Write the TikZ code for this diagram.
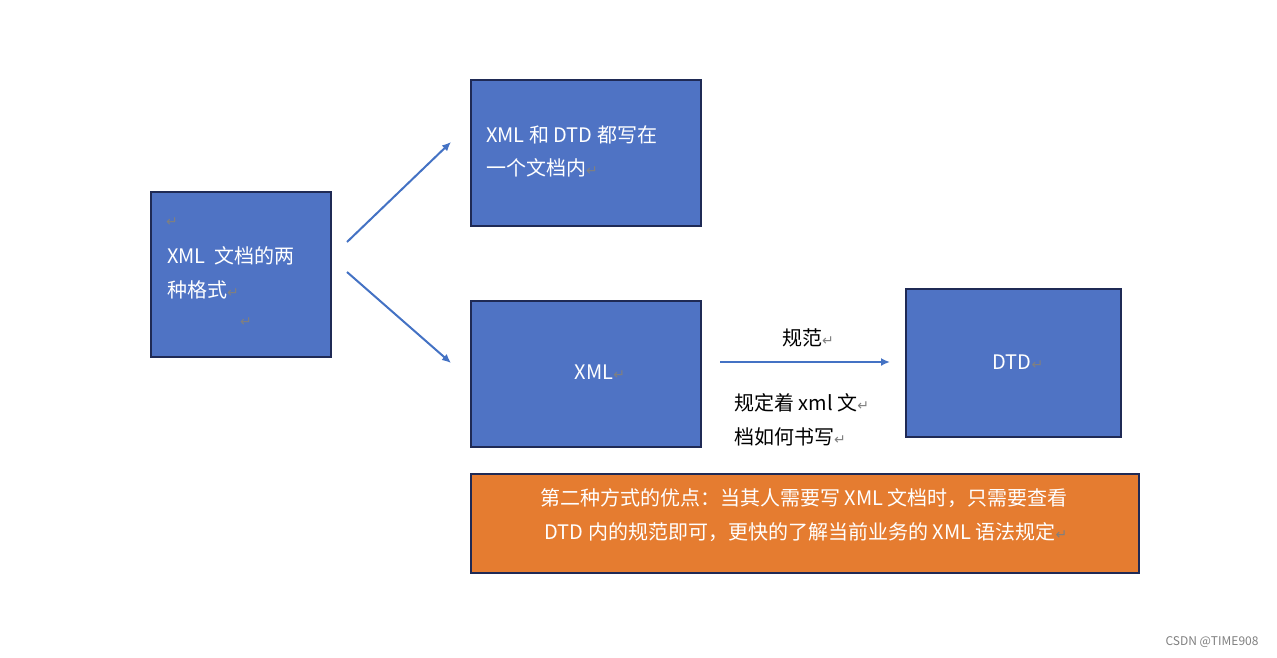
\documentclass[tikz,border=0pt]{standalone}
\usepackage{fontspec}
\usetikzlibrary{arrows.meta}
\setmainfont{Noto Sans CJK SC}
\newfontfamily\dv{DejaVu Sans}
\newcommand{\parmark}{{\dv\color{gray}\fontsize{14}{14}\selectfont ↵}}
\definecolor{boxblue}{HTML}{4F73C4}
\definecolor{arrblue}{HTML}{4472C4}
\definecolor{orng}{HTML}{E57C30}
\definecolor{edge}{HTML}{1F2A55}
\begin{document}
\begin{tikzpicture}[x=1pt,y=-1pt,
  bbox/.style={draw=edge,line width=1.5pt,fill=boxblue},
  arr/.style={draw=arrblue,line width=2pt,-{Latex[length=9pt,width=8pt]}},
  wt/.style={text=white,font=\fontsize{20}{26}\selectfont,inner sep=0pt},
  bt/.style={text=black,font=\fontsize{20}{26}\selectfont,inner sep=0pt}]
\useasboundingbox (0,0) rectangle (1277,657);
\fill[white] (0,0) rectangle (1277,657);
\node[bbox,minimum width=180,minimum height=165,anchor=north west] (l) at (150,191) {};
\node[bbox,minimum width=230,minimum height=146,anchor=north west] (t) at (470,79) {};
\node[bbox,minimum width=230,minimum height=146,anchor=north west] (m) at (470,300) {};
\node[bbox,minimum width=215,minimum height=148,anchor=north west] (d) at (905,288) {};
\node[bbox,fill=orng,minimum width=668,minimum height=99,anchor=north west] (o) at (470,473) {};
\coordinate (a1) at (347,242); \coordinate (b1) at (451,142);
\coordinate (a2) at (347,272); \coordinate (b2) at (451,363);
\coordinate (a3) at (720,362); \coordinate (b3) at (890,362);
\draw[arr] (a1) -- (b1);
\draw[arr] (a2) -- (b2);
\draw[arr] (a3) -- (b3);
\node[wt,anchor=west] (l0) at (166,222) {\parmark};
\node[wt,anchor=west] (l1) at (167,256) {XML\ \ 文档的两};
\node[wt,anchor=west] (l2) at (167,290) {种格式\parmark};
\node[wt,anchor=west] (l3) at (240,322) {\parmark};
\node[wt,anchor=west] (t1) at (486,135) {XML 和 DTD 都写在};
\node[wt,anchor=west] (t2) at (486,168) {一个文档内\parmark};
\node[wt] (mx) at (600,372) {XML\parmark};
\node[wt] (dx) at (1018,362) {DTD\parmark};
\node[bt] (g1) at (808,338) {规范\parmark};
\node[bt,anchor=west] (g2) at (734,403) {规定着 xml 文\parmark};
\node[bt,anchor=west] (g3) at (734,437) {档如何书写\parmark};
\node[wt] (o1) at (804,498) {第二种方式的优点：当其人需要写 XML 文档时，只需要查看};
\node[wt] (o2) at (806,532) {DTD 内的规范即可，更快的了解当前业务的 XML 语法规定\parmark};
\node[text=gray,font=\fontsize{12}{12}\selectfont,inner sep=0pt] (w) at (1212,642) {CSDN @TIME908};
\end{tikzpicture}
\end{document}
